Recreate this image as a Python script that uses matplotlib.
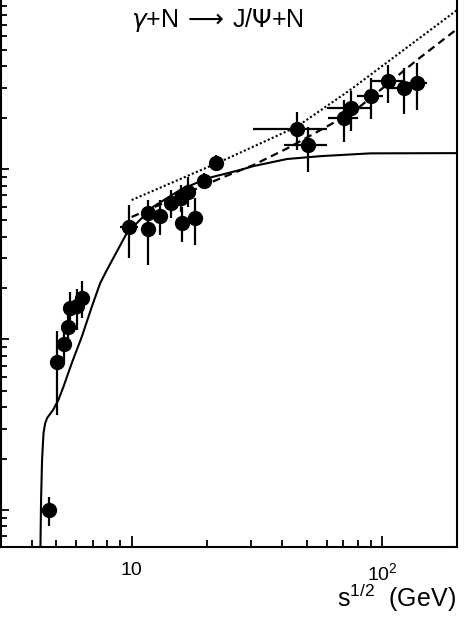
import matplotlib
matplotlib.use("Agg")
import matplotlib.pyplot as plt
import numpy as np
from matplotlib.ticker import FixedLocator, LogLocator, NullFormatter

plt.rcParams['font.family'] = ['Liberation Sans', 'DejaVu Sans']
plt.rcParams['mathtext.fontset'] = 'dejavusans'

# data points: W (GeV), cross section, error ranges
W = np.array([4.70, 5.03, 5.38, 5.56, 5.70, 6.04, 6.35, 9.80, 11.6, 11.6, 13.0, 14.4, 15.8,
              16.8, 15.9, 17.9, 19.5, 21.7, 45.6, 50.5, 70.5, 75.2, 90.4, 105.4, 122.0, 137.6])
W_lo = np.array([4.70, 5.03, 5.38, 5.56, 5.70, 6.04, 6.35, 9.0, 11.6, 11.6, 13.0, 14.4, 15.8,
                 16.8, 15.9, 17.9, 19.5, 21.7, 30.6, 40.4, 61.0, 60.5, 79.3, 89.6, 105.6, 125.5])
W_hi = np.array([4.70, 5.03, 5.38, 5.56, 5.70, 6.04, 6.35, 10.6, 11.6, 11.6, 13.0, 14.4, 15.8,
                 16.8, 15.9, 17.9, 19.5, 21.7, 60.5, 60.5, 80.4, 89.6, 101.0, 121.0, 137.6, 150.7])
sig = np.array([0.100, 0.740, 0.94, 1.19, 1.52, 1.57, 1.76, 4.55, 5.50, 4.45, 5.30, 6.34, 6.76,
                7.36, 4.84, 5.18, 8.54, 10.9, 17.1, 13.8, 19.8, 22.9, 26.8, 32.8, 30.0, 32.1])
sig_lo = np.array([0.080, 0.36, 0.74, 0.97, 1.17, 1.135, 1.34, 3.00, 4.63, 2.73, 4.10, 5.16, 5.60,
                   6.01, 3.74, 3.58, 7.66, 9.87, 12.9, 9.64, 14.5, 16.8, 19.6, 24.4, 21.0, 22.2])
sig_hi = np.array([0.119, 1.12, 1.25, 1.45, 1.905, 1.98, 2.21, 6.15, 6.58, 5.74, 6.58, 7.53, 8.05,
                   9.01, 6.01, 6.76, 9.51, 12.1, 21.7, 17.7, 25.4, 28.8, 34.2, 40.8, 39.2, 41.9])

# model curves
W_full = [4.30, 4.325, 4.35, 4.39, 4.45, 4.52, 4.60, 4.86, 5.10, 5.34, 5.77, 6.33, 6.94, 7.49,
          7.96, 9.57, 12.2, 15.6, 20.0, 27.1, 30.6, 41.7, 56.6, 89.6, 199.0]
sig_full = [0.0507, 0.0605, 0.114, 0.196, 0.283, 0.323, 0.346, 0.386, 0.441, 0.526, 0.727, 1.04,
            1.56, 2.14, 2.55, 4.21, 6.01, 7.53, 8.82, 9.87, 10.4, 11.45, 11.9, 12.36, 12.4]
W_dash = [10.0, 22.6, 30.6, 41.7, 56.6, 76.8, 89.6, 137.6, 199.0]
sig_dash = [5.23, 8.82, 10.55, 13.2, 16.9, 21.7, 26.0, 43.6, 66.3]
W_dot = [10.0, 22.6, 45.6, 74.5, 107.6, 199.0]
sig_dot = [6.58, 11.04, 17.7, 29.1, 43.6, 85.7]

fig = plt.figure(figsize=(4.74, 6.2), dpi=100)
ax = fig.add_axes([1 / 474, 73 / 620, 456 / 474, 547 / 620])

ax.plot(W_full, sig_full, '-', c='k', lw=1.5)
ax.plot(W_dash, sig_dash, c='k', lw=1.6, linestyle=(0, (3.5, 2.2)))
ax.plot(W_dot, sig_dot, c='k', lw=1.5, linestyle=(0, (1, 1.1)))
ax.errorbar(W, sig, yerr=[sig - sig_lo, sig_hi - sig], xerr=[W - W_lo, W_hi - W],
            fmt='o', c='k', ms=10, elinewidth=1.6, capsize=0)

ax.set_xscale('log')
ax.set_yscale('log')
ax.set_xlim(3.01, 199)
ax.set_ylim(0.0605, 98.2)

ax.spines['top'].set_visible(False)
for s in ['left', 'bottom', 'right']:
    ax.spines[s].set_linewidth(1.5)

ax.xaxis.set_major_locator(FixedLocator([10, 100]))
ax.xaxis.set_minor_locator(LogLocator(base=10, subs=np.arange(2, 10)))
ax.xaxis.set_minor_formatter(NullFormatter())
ax.set_xticklabels(['10', r'$\mathregular{10^{2}}$'])
ax.yaxis.set_major_locator(FixedLocator([0.1, 1, 10, 100]))
ax.yaxis.set_minor_locator(LogLocator(base=10, subs=np.arange(2, 10)))
ax.yaxis.set_minor_formatter(NullFormatter())
ax.set_yticklabels([])
ax.tick_params(which='both', direction='in', top=False, right=False, width=1.3)
ax.tick_params(axis='x', which='major', length=8, pad=11, labelsize=14)
ax.tick_params(axis='x', which='minor', length=5)
ax.tick_params(axis='y', which='major', length=6)
ax.tick_params(axis='y', which='minor', length=4)

ax.text(0.475, 0.963,
        r'$\gamma\mathregular{+N}\,\longrightarrow\,\mathregular{J/}\Psi\mathregular{+N}$',
        transform=ax.transAxes, ha='center', va='center', fontsize=18)
fig.text(0.961, 0.035, r'$\mathregular{s^{1/2}}$  (GeV)', ha='right', va='center', fontsize=18)

fig.savefig('out.png', dpi=100)
